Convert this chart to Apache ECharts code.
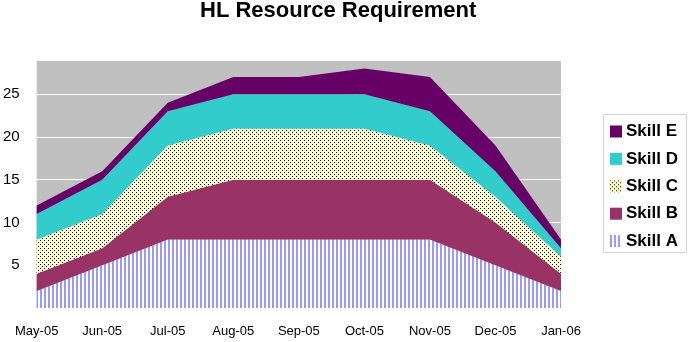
<!DOCTYPE html>
<html>
<head>
<meta charset="utf-8">
<script src="https://cdn.jsdelivr.net/npm/echarts@6/dist/echarts.min.js"></script>
<style>
  html, body { margin: 0; padding: 0; background: #ffffff; }
  #chart { width: 688px; height: 342px; }
</style>
</head>
<body>
<div id="chart"></div>
<script>
// Months on the horizontal axis
const months = ['May-05', 'Jun-05', 'Jul-05', 'Aug-05', 'Sep-05', 'Oct-05', 'Nov-05', 'Dec-05', 'Jan-06'];

// Headcount required per skill (stacked)
const skillA = [2, 5, 8, 8, 8, 8, 8, 5, 2];
const skillB = [2, 2, 5, 7, 7, 7, 7, 5, 2];
const skillC = [4, 4, 6, 6, 6, 6, 4, 3, 2];
const skillD = [3, 4, 4, 4, 4, 4, 4, 3, 1];
const skillE = [1, 1, 1, 2, 2, 3, 4, 3, 1];

const seriesNames = ['Skill A', 'Skill B', 'Skill C', 'Skill D', 'Skill E'];
const seriesValues = [skillA, skillB, skillC, skillD, skillE];

// Vertical-stripe fill
function stripePattern() {
  const c = document.createElement('canvas');
  c.width = 4; c.height = 4;
  const g = c.getContext('2d');
  g.fillStyle = '#ffffff';
  g.fillRect(0, 0, 4, 4);
  g.fillStyle = '#9999ff';
  g.fillRect(0, 0, 2, 4);
  return { image: c, repeat: 'repeat' };
}

// Dotted fill on pale yellow
function dotPattern() {
  const c = document.createElement('canvas');
  c.width = 4; c.height = 4;
  const g = c.getContext('2d');
  g.fillStyle = '#ffffcc';
  g.fillRect(0, 0, 4, 4);
  g.fillStyle = '#000000';
  g.fillRect(0, 0, 1, 1);
  g.fillRect(2, 2, 1, 1);
  return { image: c, repeat: 'repeat' };
}

const fills = [stripePattern(), '#993366', dotPattern(), '#33cccc', '#660066'];

const font = "'Liberation Sans', Arial, sans-serif";

const chart = echarts.init(document.getElementById('chart'), null, { renderer: 'canvas' });

chart.setOption({
  animation: false,
  backgroundColor: '#ffffff',
  title: {
    text: 'HL Resource Requirement',
    left: 200,
    top: 0,
    padding: 0,
    textStyle: { fontFamily: font, fontSize: 22, fontWeight: 'bold', color: '#000000' }
  },
  legend: {
    orient: 'vertical',
    left: 610,
    top: 123,
    padding: 0,
    itemWidth: 12,
    itemHeight: 12,
    itemGap: 10.4,
    icon: 'rect',
    textStyle: { fontFamily: font, fontSize: 17, fontWeight: 'bold', color: '#000000', padding: [0, 0, 0, -1] },
    data: seriesNames.slice().reverse().map(function (n) {
      const i = seriesNames.indexOf(n);
      return { name: n, itemStyle: { color: fills[i] } };
    })
  },
  graphic: [{
    type: 'rect',
    shape: { x: 603.5, y: 114.5, width: 83, height: 138 },
    style: { fill: 'none', stroke: '#d4d4d4', lineWidth: 1 },
    silent: true
  }],
  grid: {
    left: 35, right: 127, top: 60, bottom: 34,
    show: true, backgroundColor: '#c0c0c0', borderWidth: 0
  },
  xAxis: {
    type: 'category',
    data: months,
    boundaryGap: false,
    axisLine: { show: false },
    axisTick: { show: false },
    axisLabel: { fontFamily: font, fontSize: 13, color: '#000000', margin: 17 },
    splitLine: { show: false }
  },
  yAxis: {
    type: 'value',
    min: 0,
    max: 29,
    interval: 5,
    axisLine: { show: false },
    axisTick: { show: false },
    axisLabel: {
      fontFamily: font, fontSize: 15, color: '#000000', margin: 17,
      showMaxLabel: false,
      formatter: function (v) { return v === 0 ? '' : String(v); }
    },
    splitLine: { show: true, lineStyle: { color: '#ffffff', width: 1 } }
  },
  series: seriesNames.map(function (name, i) {
    return {
      name: name,
      type: 'line',
      stack: 'skills',
      data: seriesValues[i],
      symbol: 'none',
      smooth: false,
      color: fills[i],
      lineStyle: { width: 0, opacity: 0 },
      itemStyle: { color: fills[i] },
      areaStyle: { color: fills[i], opacity: 1 },
      z: 2
    };
  })
});
</script>
</body>
</html>
